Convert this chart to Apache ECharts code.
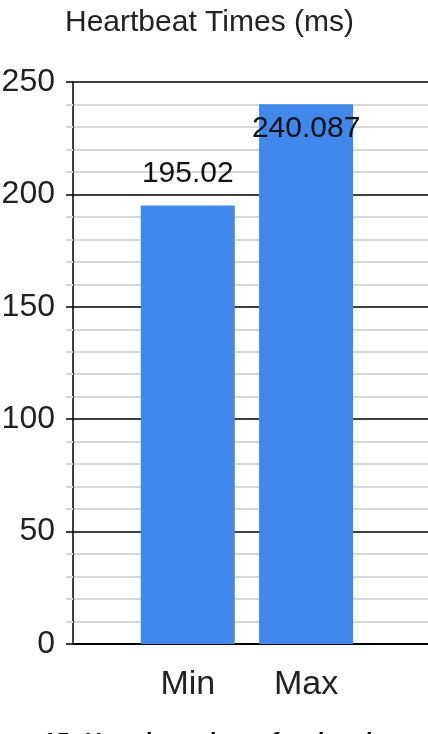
<!DOCTYPE html>
<html><head><meta charset="utf-8">
<script src="https://cdn.jsdelivr.net/npm/echarts@6.0.0/dist/echarts.min.js"></script>
<style>html,body{margin:0;padding:0;background:#fff;overflow:hidden}#c{width:428px;height:734px;}</style>
</head><body><div id="c"></div>
<script>
const titleText = 'Heartbeat Times (ms)';
const categories = ['Min', 'Max'];
const values = [195.02, 240.087];
const yTicks = [0, 50, 100, 150, 200, 250];
const captionText = 'Chart 15: Heartbeat times for the cluster';

const FONT = '"Liberation Sans", Arial, sans-serif';
const chart = echarts.init(document.getElementById('c'), null, {renderer: 'canvas'});

const positions = categories.map((c, i) => i + 1);
const barData = values.map((v, i) => {
  const item = {value: [positions[i], v]};
  if (i === values.length - 1) {
    item.label = {position: 'insideTop', distance: 9};
  }
  return item;
});

chart.setOption({
  animation: false,
  backgroundColor: '#fff',
  title: {
    text: titleText,
    left: 60, top: 3,
    textStyle: {fontSize: 30, fontWeight: 'normal', color: '#222', fontFamily: FONT}
  },
  grid: {left: 73, right: 0, top: 82, bottom: 90, containLabel: false, outerBoundsMode: 'none'},
  xAxis: {
    type: 'value', min: 0.03, max: 3.03,
    splitLine: {show: false},
    axisTick: {show: false},
    axisLine: {lineStyle: {color: '#000', width: 2}},
    axisLabel: {
      customValues: positions,
      fontSize: 34, color: '#222', fontFamily: FONT, margin: 24,
      hideOverlap: false,
      formatter: v => {
        const r = Math.round(v);
        return (r >= 1 && r <= categories.length) ? categories[r - 1] : '';
      }
    }
  },
  yAxis: {
    type: 'value',
    min: yTicks[0], max: yTicks[yTicks.length - 1], interval: yTicks[1] - yTicks[0],
    axisLine: {show: true, onZero: false, lineStyle: {color: '#000', width: 1.5}},
    axisTick: {show: true, inside: false, length: 7, lineStyle: {color: '#000', width: 1.5}},
    splitLine: {show: true, lineStyle: {color: '#000', width: 1.5}},
    minorTick: {show: true, splitNumber: 5, length: 7, lineStyle: {color: '#d6d6d6', width: 2}},
    minorSplitLine: {show: true, lineStyle: {color: '#d6d6d6', width: 2}},
    axisLabel: {fontSize: 32, color: '#222', fontFamily: FONT, margin: 18}
  },
  series: [{
    type: 'bar',
    data: barData,
    barWidth: 94,
    itemStyle: {color: '#4088EB'},
    label: {
      show: true, position: 'top', distance: 17,
      fontSize: 30, color: '#111', fontFamily: FONT,
      formatter: p => String(p.value[1])
    }
  }],
  graphic: [{
    type: 'text', left: -28, top: 731, silent: true,
    style: {text: captionText, fontSize: 24, fontStyle: 'italic', fontWeight: 'bold', fontFamily: FONT, fill: '#111'}
  }]
});
</script>
</body></html>
